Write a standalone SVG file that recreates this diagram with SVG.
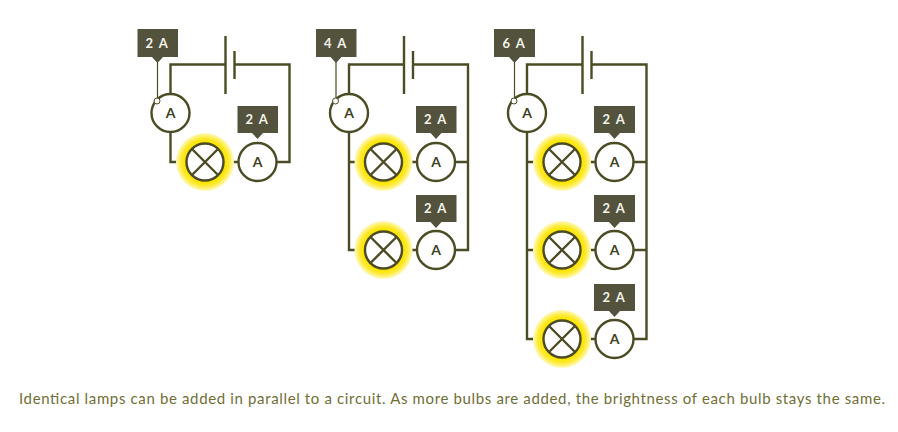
<svg xmlns="http://www.w3.org/2000/svg" width="898" height="432" viewBox="0 0 898 432">
<style>
.w{fill:none;stroke:#4c4c24;stroke-width:2.4}
.t{fill:none;stroke:#4c4c24;stroke-width:1.2}
.c{fill:#fff;stroke:#4c4c24;stroke-width:2.4}
.x{fill:none;stroke:#4c4c24;stroke-width:2.4}
.l{fill:#53533d}
.lt{fill:#f4f4ea;font:bold 13px "Lato","Liberation Sans",sans-serif;letter-spacing:1.5px;text-anchor:middle}
.at{fill:#3f3f22;font:bold 14px "Lato","Liberation Sans",sans-serif;text-anchor:middle}
.cap{fill:#6f6f35;font:15px "Lato","Liberation Sans",sans-serif}
</style>
<defs>
<radialGradient id="glow"><stop offset="0.7" stop-color="#fde400"/><stop offset="0.82" stop-color="#fdea30"/><stop offset="0.94" stop-color="#fff490"/><stop offset="1" stop-color="#fff9c0"/></radialGradient>
<g id="lamp"><circle fill="url(#glow)" r="29"/><circle class="c" r="18.500"/><path class="x" d="M-13-13L13 13M13-13L-13 13"/></g>
</defs>
<g id="connectors">
<path class="w" d="M170.500 94V64.500H225.500M234.500 64.500H289.500V162H276M170.500 132V162H187M223 162H238.500"/>
<path class="w" d="M225.500 36V94M234.500 51V79"/>
<path class="t" d="M157.500 62V100"/>
<path class="w" d="M349 94V64.500H404M413 64.500H468V250H455M349 132V250H365M349 162H365M402 162H417M455 162H468M402 250H417"/>
<path class="w" d="M404 36V94M413 51V79"/>
<path class="t" d="M336 62V100"/>
<path class="w" d="M527 94V64.500H582.500M591.500 64.500H646.500V339H633M527 132V339H544M527 162H544M527 250H544M581 162H596M633 162H646.500M581 250H596M633 250H646.500M581 339H596"/>
<path class="w" d="M582.500 36V94M591.500 51V79"/>
<path class="t" d="M514.500 62V100"/>
</g>
<g id="lamp1-1"><use href="#lamp" x="205" y="162"/></g>
<g id="lamp2-1"><use href="#lamp" x="383.500" y="162"/></g>
<g id="lamp2-2"><use href="#lamp" x="383.500" y="250"/></g>
<g id="lamp3-1"><use href="#lamp" x="562" y="162"/></g>
<g id="lamp3-2"><use href="#lamp" x="562" y="250"/></g>
<g id="lamp3-3"><use href="#lamp" x="562" y="339"/></g>
<g id="ammeter1-main"><circle class="c" cx="170.500" cy="113" r="19"/><text class="at" x="170.500" y="118">A</text><circle cx="157" cy="101" r="3" fill="#fff" stroke="#4c4c24" stroke-width="1"/></g>
<g id="ammeter1-1"><circle class="c" cx="257.500" cy="162" r="19"/><text class="at" x="257.500" y="167">A</text></g>
<g id="ammeter2-main"><circle class="c" cx="349" cy="113" r="19"/><text class="at" x="349" y="118">A</text><circle cx="335.500" cy="101" r="3" fill="#fff" stroke="#4c4c24" stroke-width="1"/></g>
<g id="ammeter2-1"><circle class="c" cx="436" cy="162" r="19"/><text class="at" x="436" y="167">A</text></g>
<g id="ammeter2-2"><circle class="c" cx="436" cy="250" r="19"/><text class="at" x="436" y="255">A</text></g>
<g id="ammeter3-main"><circle class="c" cx="527" cy="113" r="19"/><text class="at" x="527" y="118">A</text><circle cx="514" cy="101" r="3" fill="#fff" stroke="#4c4c24" stroke-width="1"/></g>
<g id="ammeter3-1"><circle class="c" cx="614.500" cy="162" r="19"/><text class="at" x="614.500" y="167">A</text></g>
<g id="ammeter3-2"><circle class="c" cx="614.500" cy="250" r="19"/><text class="at" x="614.500" y="255">A</text></g>
<g id="ammeter3-3"><circle class="c" cx="614.500" cy="339" r="19"/><text class="at" x="614.500" y="344">A</text></g>
<g id="label1-main"><path class="l" d="M137.500 29H178V57H163L157.500 63L152 57H137.500Z"/><text class="lt" x="157.500" y="48">2 A</text></g>
<g id="label1-1"><path class="l" d="M237.500 106H278V133H263L257.500 139L252 133H237.500Z"/><text class="lt" x="257.500" y="124">2 A</text></g>
<g id="label2-main"><path class="l" d="M316 29H356.500V57H341.500L336 63L330.500 57H316Z"/><text class="lt" x="336" y="48">4 A</text></g>
<g id="label2-1"><path class="l" d="M416 106H456.500V133H441.500L436 139L430.500 133H416Z"/><text class="lt" x="436" y="124">2 A</text></g>
<g id="label2-2"><path class="l" d="M416 195H456.500V222H441.500L436 228L430.500 222H416Z"/><text class="lt" x="436" y="213">2 A</text></g>
<g id="label3-main"><path class="l" d="M494 29H535V57H520L514.500 63L509 57H494Z"/><text class="lt" x="514.500" y="48">6 A</text></g>
<g id="label3-1"><path class="l" d="M594 106H635V133H620L614.500 139L609 133H594Z"/><text class="lt" x="614.500" y="124">2 A</text></g>
<g id="label3-2"><path class="l" d="M594 195H635V222H620L614.500 228L609 222H594Z"/><text class="lt" x="614.500" y="213">2 A</text></g>
<g id="label3-3"><path class="l" d="M594 284H635V311H620L614.500 317L609 311H594Z"/><text class="lt" x="614.500" y="302">2 A</text></g>
<text class="cap" x="19" y="404" textLength="866" lengthAdjust="spacing">Identical lamps can be added in parallel to a circuit. As more bulbs are added, the brightness of each bulb stays the same.</text>
</svg>
